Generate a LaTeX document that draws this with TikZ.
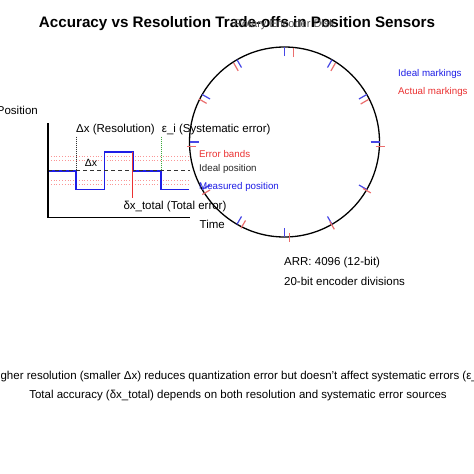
\documentclass[tikz,border=0pt]{standalone}
\usepackage{fontspec}
\setmainfont{Liberation Sans}
\definecolor{mblue}{RGB}{30,30,230}
\definecolor{tblue}{RGB}{70,70,230}
\definecolor{tred}{RGB}{235,110,110}
\definecolor{ered}{RGB}{235,50,50}
\definecolor{bandred}{RGB}{250,150,150}
\definecolor{gdot}{RGB}{60,170,60}
\begin{document}
\begin{tikzpicture}[x=1pt,y=-1pt,
  lbl/.style={font=\fontsize{11.5}{14}\selectfont, inner sep=0pt},
  leg/.style={font=\fontsize{9.75}{12}\selectfont, inner sep=0pt, anchor=west},
  axisline/.style={line width=1.3pt, black},
  bandline/.style={bandred, line width=0.8pt, dotted},
  idealline/.style={black!80, line width=1pt, dash pattern=on 4pt off 3pt},
  measline/.style={mblue, line width=1.6pt},
  totline/.style={ered, line width=1pt},
  resline/.style={black!80, line width=1pt, densely dotted},
  sysline/.style={gdot, line width=1pt, densely dotted},
  idealtick/.style={tblue, line width=1.2pt},
  actualtick/.style={tred, line width=1.2pt}]
\useasboundingbox (0,0) rectangle (474,474);
\fill[white] (0,0) rectangle (474,474);

% title
\node[font=\fontsize{15.2}{18}\selectfont\bfseries, inner sep=0pt] (title) at (237,23.5) {Accuracy vs Resolution Trade-offs in Position Sensors};
\node[font=\fontsize{11}{13}\selectfont, text=black!70, inner sep=0pt] (disktitle) at (284.5,24.5) {Rotary Encoder Disk};

% encoder disk
\coordinate (c) at (284.5,142);
\draw[line width=1.3pt] (c) circle[radius=95pt];
\foreach \a/\dx/\dy in {0/5/4.4, 30/1.7/5, 60/3.4/3.4, 90/9/1, 120/-3.3/3.3, 150/-3.4/4.4,
  180/-3/4.4, 210/0/5, 240/4/4, 270/5/5, 300/2.3/5, 330/4/3.4} {
  \draw[idealtick, shift={(c)}] (-\a:86) -- (-\a:95);
  \draw[actualtick, shift={(c)}, shift={(\dx,\dy)}] (-\a:86) -- (-\a:95);
}
\node[leg, text=mblue] (legideal) at (398,73.5) {Ideal markings};
\node[leg, text=ered] (legactual) at (398,92) {Actual markings};
\node[lbl, anchor=west] (arr) at (284,262.5) {ARR: 4096 (12-bit)};
\node[lbl, anchor=west] (enc) at (284,281.5) {20-bit encoder divisions};

% chart
\foreach \yy in {156.5,160.5,180.5,184.5} \draw[bandline] (48,\yy) -- (190,\yy);
\draw[measline] (48,170.7) -- (76,170.7) -- (76,189.3) -- (104.3,189.3) -- (104.3,151.7)
  -- (132.7,151.7) -- (132.7,170.7) -- (161,170.7) -- (161,189.3) -- (189.3,189.3);
\draw[idealline] (48,170.7) -- (190,170.7);
\draw[totline] (132.7,151.7) -- (132.7,198.3);
\draw[resline] (76,136.7) -- (76,170.7);
\draw[sysline] (161,136.7) -- (161,170.7);
\draw[axisline] (48,123) -- (48,217.5) -- (190,217.5);

\node[lbl, anchor=east] (ylab) at (38,110.8) {Position};
\node[lbl, anchor=west] (xlab) at (199.5,224.8) {Time};
\node[lbl, anchor=west] (res) at (76,129.8) {Δx (Resolution)};
\node[lbl, anchor=west] (sys) at (161.7,129.8) {ε\_i (Systematic error)};
\node[font=\fontsize{10.5}{12}\selectfont, inner sep=0pt] (dx) at (91,162.5) {Δx};
\node[lbl, anchor=west] (tot) at (123.3,206.2) {δx\_total (Total error)};
\node[leg, text=ered] (legband) at (199,154) {Error bands};
\node[leg, text=black!85] (legidealpos) at (199,168.6) {Ideal position};
\node[leg, text=mblue] (legmeas) at (199,187.3) {Measured position};

% bottom notes
\node[lbl] (note1) at (237,376.5) {Higher resolution (smaller Δx) reduces quantization error but doesn't affect systematic errors (ε\_i)};
\node[lbl] (note2) at (238,395.5) {Total accuracy (δx\_total) depends on both resolution and systematic error sources};
\end{tikzpicture}
\end{document}
